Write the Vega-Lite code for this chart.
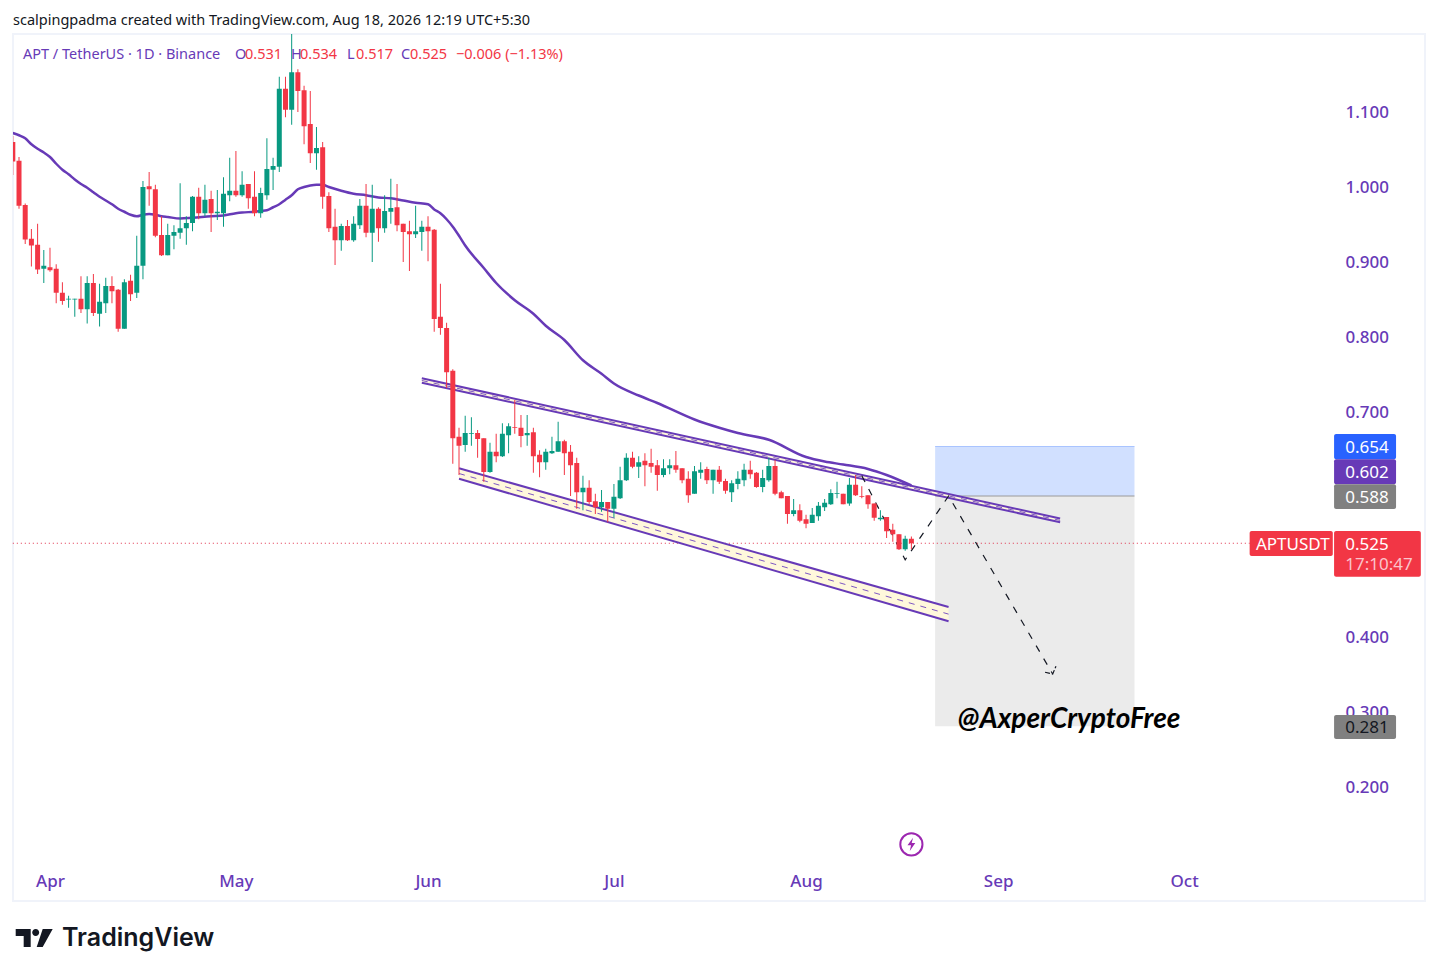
{"$schema":"https://vega.github.io/schema/vega-lite/v6.json","width":1412,"height":867,"autosize":{"type":"none"},"padding":{"left":13,"top":34,"right":13,"bottom":75},"background":"white","config":{"view":{"stroke":"#f0f3fa","strokeWidth":2},"font":"Noto Sans"},"title":{"text":"scalpingpadma created with TradingView.com, Aug 18, 2026 12:19 UTC+5:30","anchor":"start","frame":"group","offset":6,"fontSize":14.5,"fontWeight":"normal","font":"Noto Sans","color":"#131722"},
"datasets":{
"candles":[
{"date":"2026-03-26","o":1.060,"h":1.068,"l":1.016,"c":1.034,"s":"d"},
{"date":"2026-03-27","o":1.035,"h":1.040,"l":0.971,"c":0.975,"s":"d"},
{"date":"2026-03-28","o":0.976,"h":0.978,"l":0.924,"c":0.930,"s":"d"},
{"date":"2026-03-29","o":0.931,"h":0.944,"l":0.894,"c":0.922,"s":"d"},
{"date":"2026-03-30","o":0.923,"h":0.951,"l":0.884,"c":0.890,"s":"d"},
{"date":"2026-03-31","o":0.891,"h":0.916,"l":0.872,"c":0.895,"s":"u"},
{"date":"2026-04-01","o":0.893,"h":0.919,"l":0.887,"c":0.889,"s":"d"},
{"date":"2026-04-02","o":0.891,"h":0.897,"l":0.845,"c":0.859,"s":"d"},
{"date":"2026-04-03","o":0.859,"h":0.873,"l":0.843,"c":0.848,"s":"d"},
{"date":"2026-04-04","o":0.850,"h":0.855,"l":0.839,"c":0.851,"s":"u"},
{"date":"2026-04-05","o":0.850,"h":0.851,"l":0.827,"c":0.851,"s":"u"},
{"date":"2026-04-06","o":0.851,"h":0.881,"l":0.832,"c":0.837,"s":"d"},
{"date":"2026-04-07","o":0.837,"h":0.881,"l":0.818,"c":0.872,"s":"u"},
{"date":"2026-04-08","o":0.872,"h":0.884,"l":0.828,"c":0.832,"s":"d"},
{"date":"2026-04-09","o":0.831,"h":0.871,"l":0.814,"c":0.847,"s":"u"},
{"date":"2026-04-10","o":0.845,"h":0.879,"l":0.832,"c":0.868,"s":"u"},
{"date":"2026-04-11","o":0.868,"h":0.881,"l":0.845,"c":0.861,"s":"d"},
{"date":"2026-04-12","o":0.863,"h":0.864,"l":0.807,"c":0.811,"s":"d"},
{"date":"2026-04-13","o":0.811,"h":0.877,"l":0.811,"c":0.873,"s":"u"},
{"date":"2026-04-14","o":0.875,"h":0.883,"l":0.848,"c":0.857,"s":"d"},
{"date":"2026-04-15","o":0.859,"h":0.935,"l":0.852,"c":0.895,"s":"u"},
{"date":"2026-04-16","o":0.895,"h":1.008,"l":0.877,"c":1.000,"s":"u"},
{"date":"2026-04-17","o":1.001,"h":1.020,"l":0.975,"c":0.997,"s":"d"},
{"date":"2026-04-18","o":0.997,"h":1.003,"l":0.933,"c":0.935,"s":"d"},
{"date":"2026-04-19","o":0.936,"h":0.961,"l":0.908,"c":0.909,"s":"d"},
{"date":"2026-04-20","o":0.909,"h":0.951,"l":0.909,"c":0.936,"s":"u"},
{"date":"2026-04-21","o":0.935,"h":0.949,"l":0.917,"c":0.940,"s":"u"},
{"date":"2026-04-22","o":0.939,"h":1.005,"l":0.931,"c":0.945,"s":"u"},
{"date":"2026-04-23","o":0.945,"h":0.961,"l":0.923,"c":0.952,"s":"u"},
{"date":"2026-04-24","o":0.952,"h":0.988,"l":0.941,"c":0.987,"s":"u"},
{"date":"2026-04-25","o":0.987,"h":0.999,"l":0.957,"c":0.965,"s":"d"},
{"date":"2026-04-26","o":0.965,"h":1.003,"l":0.961,"c":0.983,"s":"u"},
{"date":"2026-04-27","o":0.984,"h":0.995,"l":0.940,"c":0.965,"s":"d"},
{"date":"2026-04-28","o":0.965,"h":0.996,"l":0.956,"c":0.967,"s":"u"},
{"date":"2026-04-29","o":0.965,"h":1.013,"l":0.947,"c":0.991,"s":"u"},
{"date":"2026-04-30","o":0.989,"h":1.039,"l":0.981,"c":0.995,"s":"u"},
{"date":"2026-05-01","o":0.995,"h":1.048,"l":0.987,"c":0.989,"s":"d"},
{"date":"2026-05-02","o":0.989,"h":1.021,"l":0.987,"c":1.003,"s":"u"},
{"date":"2026-05-03","o":1.004,"h":1.004,"l":0.971,"c":0.985,"s":"d"},
{"date":"2026-05-04","o":0.987,"h":1.021,"l":0.961,"c":0.965,"s":"d"},
{"date":"2026-05-05","o":0.965,"h":0.999,"l":0.959,"c":0.992,"s":"u"},
{"date":"2026-05-06","o":0.989,"h":1.065,"l":0.983,"c":1.024,"s":"u"},
{"date":"2026-05-07","o":1.023,"h":1.039,"l":0.996,"c":1.028,"s":"u"},
{"date":"2026-05-08","o":1.027,"h":1.147,"l":1.020,"c":1.131,"s":"u"},
{"date":"2026-05-09","o":1.131,"h":1.147,"l":1.093,"c":1.103,"s":"d"},
{"date":"2026-05-10","o":1.103,"h":1.205,"l":1.083,"c":1.153,"s":"u"},
{"date":"2026-05-11","o":1.153,"h":1.157,"l":1.100,"c":1.128,"s":"d"},
{"date":"2026-05-12","o":1.129,"h":1.135,"l":1.057,"c":1.081,"s":"d"},
{"date":"2026-05-13","o":1.084,"h":1.128,"l":1.032,"c":1.045,"s":"d"},
{"date":"2026-05-14","o":1.045,"h":1.080,"l":1.023,"c":1.052,"s":"u"},
{"date":"2026-05-15","o":1.053,"h":1.060,"l":0.971,"c":0.987,"s":"d"},
{"date":"2026-05-16","o":0.988,"h":0.993,"l":0.940,"c":0.945,"s":"d"},
{"date":"2026-05-17","o":0.947,"h":0.971,"l":0.896,"c":0.929,"s":"d"},
{"date":"2026-05-18","o":0.929,"h":0.951,"l":0.915,"c":0.948,"s":"u"},
{"date":"2026-05-19","o":0.948,"h":0.956,"l":0.928,"c":0.929,"s":"d"},
{"date":"2026-05-20","o":0.929,"h":0.961,"l":0.927,"c":0.951,"s":"u"},
{"date":"2026-05-21","o":0.949,"h":0.984,"l":0.944,"c":0.975,"s":"u"},
{"date":"2026-05-22","o":0.975,"h":1.004,"l":0.933,"c":0.939,"s":"d"},
{"date":"2026-05-23","o":0.939,"h":1.003,"l":0.900,"c":0.971,"s":"u"},
{"date":"2026-05-24","o":0.971,"h":0.973,"l":0.927,"c":0.945,"s":"d"},
{"date":"2026-05-25","o":0.945,"h":0.989,"l":0.939,"c":0.968,"s":"u"},
{"date":"2026-05-26","o":0.967,"h":1.011,"l":0.951,"c":0.972,"s":"u"},
{"date":"2026-05-27","o":0.973,"h":1.004,"l":0.941,"c":0.949,"s":"d"},
{"date":"2026-05-28","o":0.951,"h":0.951,"l":0.900,"c":0.940,"s":"d"},
{"date":"2026-05-29","o":0.941,"h":0.955,"l":0.888,"c":0.937,"s":"d"},
{"date":"2026-05-30","o":0.937,"h":0.975,"l":0.932,"c":0.941,"s":"u"},
{"date":"2026-05-31","o":0.940,"h":0.955,"l":0.915,"c":0.947,"s":"u"},
{"date":"2026-06-01","o":0.947,"h":0.961,"l":0.901,"c":0.941,"s":"d"},
{"date":"2026-06-02","o":0.943,"h":0.944,"l":0.807,"c":0.824,"s":"d"},
{"date":"2026-06-03","o":0.827,"h":0.871,"l":0.803,"c":0.812,"s":"d"},
{"date":"2026-06-04","o":0.812,"h":0.819,"l":0.732,"c":0.753,"s":"d"},
{"date":"2026-06-05","o":0.755,"h":0.757,"l":0.631,"c":0.665,"s":"d"},
{"date":"2026-06-06","o":0.667,"h":0.679,"l":0.616,"c":0.655,"s":"d"},
{"date":"2026-06-07","o":0.656,"h":0.695,"l":0.647,"c":0.672,"s":"u"},
{"date":"2026-06-08","o":0.671,"h":0.693,"l":0.655,"c":0.672,"s":"u"},
{"date":"2026-06-09","o":0.672,"h":0.676,"l":0.639,"c":0.664,"s":"d"},
{"date":"2026-06-10","o":0.665,"h":0.665,"l":0.607,"c":0.620,"s":"d"},
{"date":"2026-06-11","o":0.620,"h":0.659,"l":0.619,"c":0.647,"s":"u"},
{"date":"2026-06-12","o":0.647,"h":0.671,"l":0.633,"c":0.641,"s":"d"},
{"date":"2026-06-13","o":0.641,"h":0.685,"l":0.640,"c":0.671,"s":"u"},
{"date":"2026-06-14","o":0.669,"h":0.685,"l":0.645,"c":0.681,"s":"u"},
{"date":"2026-06-15","o":0.680,"h":0.716,"l":0.671,"c":0.679,"s":"d"},
{"date":"2026-06-16","o":0.679,"h":0.696,"l":0.653,"c":0.668,"s":"d"},
{"date":"2026-06-17","o":0.669,"h":0.696,"l":0.655,"c":0.672,"s":"u"},
{"date":"2026-06-18","o":0.673,"h":0.679,"l":0.619,"c":0.641,"s":"d"},
{"date":"2026-06-19","o":0.643,"h":0.649,"l":0.613,"c":0.633,"s":"d"},
{"date":"2026-06-20","o":0.633,"h":0.651,"l":0.623,"c":0.647,"s":"u"},
{"date":"2026-06-21","o":0.645,"h":0.667,"l":0.644,"c":0.648,"s":"u"},
{"date":"2026-06-22","o":0.647,"h":0.687,"l":0.647,"c":0.661,"s":"u"},
{"date":"2026-06-23","o":0.661,"h":0.663,"l":0.616,"c":0.645,"s":"d"},
{"date":"2026-06-24","o":0.647,"h":0.656,"l":0.588,"c":0.629,"s":"d"},
{"date":"2026-06-25","o":0.632,"h":0.639,"l":0.571,"c":0.593,"s":"d"},
{"date":"2026-06-26","o":0.593,"h":0.615,"l":0.569,"c":0.599,"s":"u"},
{"date":"2026-06-27","o":0.599,"h":0.609,"l":0.577,"c":0.580,"s":"d"},
{"date":"2026-06-28","o":0.581,"h":0.591,"l":0.564,"c":0.573,"s":"d"},
{"date":"2026-06-29","o":0.573,"h":0.596,"l":0.567,"c":0.580,"s":"u"},
{"date":"2026-06-30","o":0.580,"h":0.580,"l":0.553,"c":0.571,"s":"d"},
{"date":"2026-07-01","o":0.571,"h":0.604,"l":0.559,"c":0.587,"s":"u"},
{"date":"2026-07-02","o":0.585,"h":0.627,"l":0.584,"c":0.609,"s":"u"},
{"date":"2026-07-03","o":0.609,"h":0.645,"l":0.608,"c":0.639,"s":"u"},
{"date":"2026-07-04","o":0.639,"h":0.647,"l":0.625,"c":0.627,"s":"d"},
{"date":"2026-07-05","o":0.627,"h":0.641,"l":0.612,"c":0.633,"s":"u"},
{"date":"2026-07-06","o":0.635,"h":0.645,"l":0.601,"c":0.629,"s":"d"},
{"date":"2026-07-07","o":0.632,"h":0.651,"l":0.619,"c":0.627,"s":"d"},
{"date":"2026-07-08","o":0.629,"h":0.636,"l":0.595,"c":0.616,"s":"d"},
{"date":"2026-07-09","o":0.616,"h":0.637,"l":0.613,"c":0.625,"s":"u"},
{"date":"2026-07-10","o":0.625,"h":0.637,"l":0.617,"c":0.629,"s":"u"},
{"date":"2026-07-11","o":0.629,"h":0.648,"l":0.619,"c":0.623,"s":"d"},
{"date":"2026-07-12","o":0.625,"h":0.625,"l":0.605,"c":0.609,"s":"d"},
{"date":"2026-07-13","o":0.611,"h":0.621,"l":0.579,"c":0.589,"s":"d"},
{"date":"2026-07-14","o":0.591,"h":0.628,"l":0.591,"c":0.621,"s":"u"},
{"date":"2026-07-15","o":0.619,"h":0.633,"l":0.611,"c":0.623,"s":"u"},
{"date":"2026-07-16","o":0.624,"h":0.627,"l":0.604,"c":0.609,"s":"d"},
{"date":"2026-07-17","o":0.609,"h":0.623,"l":0.591,"c":0.623,"s":"u"},
{"date":"2026-07-18","o":0.623,"h":0.628,"l":0.604,"c":0.607,"s":"d"},
{"date":"2026-07-19","o":0.608,"h":0.611,"l":0.591,"c":0.595,"s":"d"},
{"date":"2026-07-20","o":0.593,"h":0.609,"l":0.580,"c":0.605,"s":"u"},
{"date":"2026-07-21","o":0.604,"h":0.621,"l":0.597,"c":0.611,"s":"u"},
{"date":"2026-07-22","o":0.609,"h":0.631,"l":0.601,"c":0.623,"s":"u"},
{"date":"2026-07-23","o":0.623,"h":0.635,"l":0.611,"c":0.617,"s":"d"},
{"date":"2026-07-24","o":0.619,"h":0.620,"l":0.599,"c":0.600,"s":"d"},
{"date":"2026-07-25","o":0.600,"h":0.623,"l":0.593,"c":0.612,"s":"u"},
{"date":"2026-07-26","o":0.609,"h":0.639,"l":0.607,"c":0.628,"s":"u"},
{"date":"2026-07-27","o":0.628,"h":0.636,"l":0.589,"c":0.591,"s":"d"},
{"date":"2026-07-28","o":0.593,"h":0.595,"l":0.585,"c":0.585,"s":"d"},
{"date":"2026-07-29","o":0.588,"h":0.588,"l":0.551,"c":0.564,"s":"d"},
{"date":"2026-07-30","o":0.564,"h":0.584,"l":0.561,"c":0.569,"s":"u"},
{"date":"2026-07-31","o":0.569,"h":0.577,"l":0.553,"c":0.555,"s":"d"},
{"date":"2026-08-01","o":0.557,"h":0.563,"l":0.545,"c":0.551,"s":"d"},
{"date":"2026-08-02","o":0.552,"h":0.572,"l":0.552,"c":0.563,"s":"u"},
{"date":"2026-08-03","o":0.561,"h":0.580,"l":0.555,"c":0.575,"s":"u"},
{"date":"2026-08-04","o":0.573,"h":0.584,"l":0.568,"c":0.579,"s":"u"},
{"date":"2026-08-05","o":0.577,"h":0.597,"l":0.576,"c":0.592,"s":"u"},
{"date":"2026-08-06","o":0.591,"h":0.607,"l":0.585,"c":0.592,"s":"u"},
{"date":"2026-08-07","o":0.591,"h":0.591,"l":0.577,"c":0.577,"s":"d"},
{"date":"2026-08-08","o":0.578,"h":0.612,"l":0.575,"c":0.603,"s":"u"},
{"date":"2026-08-09","o":0.603,"h":0.616,"l":0.588,"c":0.589,"s":"d"},
{"date":"2026-08-10","o":0.588,"h":0.601,"l":0.585,"c":0.587,"s":"d"},
{"date":"2026-08-11","o":0.589,"h":0.589,"l":0.571,"c":0.577,"s":"d"},
{"date":"2026-08-12","o":0.578,"h":0.578,"l":0.555,"c":0.559,"s":"d"},
{"date":"2026-08-13","o":0.557,"h":0.569,"l":0.555,"c":0.559,"s":"u"},
{"date":"2026-08-14","o":0.560,"h":0.560,"l":0.532,"c":0.541,"s":"d"},
{"date":"2026-08-15","o":0.543,"h":0.551,"l":0.527,"c":0.537,"s":"d"},
{"date":"2026-08-16","o":0.537,"h":0.537,"l":0.516,"c":0.517,"s":"d"},
{"date":"2026-08-17","o":0.517,"h":0.535,"l":0.515,"c":0.531,"s":"u"},
{"date":"2026-08-18","o":0.531,"h":0.534,"l":0.517,"c":0.525,"s":"d"}
],
"ma":[
{"date":"2026-03-26","v":1.072},{"date":"2026-03-27","v":1.069},{"date":"2026-03-28","v":1.065},{"date":"2026-03-29","v":1.057},{"date":"2026-03-30","v":1.051},{"date":"2026-03-31","v":1.046},{"date":"2026-04-01","v":1.040},{"date":"2026-04-02","v":1.031},{"date":"2026-04-03","v":1.023},{"date":"2026-04-04","v":1.017},{"date":"2026-04-05","v":1.010},{"date":"2026-04-06","v":1.004},{"date":"2026-04-07","v":0.999},{"date":"2026-04-08","v":0.993},{"date":"2026-04-09","v":0.987},{"date":"2026-04-10","v":0.982},{"date":"2026-04-11","v":0.977},{"date":"2026-04-12","v":0.971},{"date":"2026-04-13","v":0.967},{"date":"2026-04-14","v":0.963},{"date":"2026-04-15","v":0.961},{"date":"2026-04-16","v":0.963},{"date":"2026-04-17","v":0.964},{"date":"2026-04-18","v":0.963},{"date":"2026-04-19","v":0.961},{"date":"2026-04-20","v":0.960},{"date":"2026-04-22","v":0.958},{"date":"2026-04-24","v":0.959},{"date":"2026-04-27","v":0.961},{"date":"2026-04-29","v":0.962},{"date":"2026-05-01","v":0.965},{"date":"2026-05-02","v":0.966},{"date":"2026-05-04","v":0.967},{"date":"2026-05-05","v":0.968},{"date":"2026-05-06","v":0.969},{"date":"2026-05-07","v":0.973},{"date":"2026-05-08","v":0.977},{"date":"2026-05-09","v":0.983},{"date":"2026-05-10","v":0.989},{"date":"2026-05-11","v":0.997},{"date":"2026-05-12","v":1.000},{"date":"2026-05-13","v":1.002},{"date":"2026-05-14","v":1.003},{"date":"2026-05-15","v":1.003},{"date":"2026-05-16","v":1.000},{"date":"2026-05-18","v":0.995},{"date":"2026-05-20","v":0.991},{"date":"2026-05-22","v":0.989},{"date":"2026-05-24","v":0.986},{"date":"2026-05-26","v":0.985},{"date":"2026-05-28","v":0.982},{"date":"2026-05-30","v":0.979},{"date":"2026-06-01","v":0.977},{"date":"2026-06-02","v":0.970},{"date":"2026-06-03","v":0.965},{"date":"2026-06-04","v":0.957},{"date":"2026-06-05","v":0.947},{"date":"2026-06-06","v":0.935},{"date":"2026-06-07","v":0.922},{"date":"2026-06-10","v":0.892},{"date":"2026-06-12","v":0.872},{"date":"2026-06-15","v":0.849},{"date":"2026-06-18","v":0.831},{"date":"2026-06-20","v":0.815},{"date":"2026-06-23","v":0.796},{"date":"2026-06-26","v":0.769},{"date":"2026-06-29","v":0.751},{"date":"2026-07-01","v":0.738},{"date":"2026-07-05","v":0.722},{"date":"2026-07-08","v":0.712},{"date":"2026-07-14","v":0.690},{"date":"2026-07-18","v":0.679},{"date":"2026-07-21","v":0.672},{"date":"2026-07-26","v":0.663},{"date":"2026-08-01","v":0.640},{"date":"2026-08-04","v":0.634},{"date":"2026-08-07","v":0.630},{"date":"2026-08-11","v":0.624},{"date":"2026-08-14","v":0.616},{"date":"2026-08-18","v":0.602}
],
"channels":[
{"date":"2026-05-31","top":0.745,"mid":0.742,"bot":0.739,"ch":"upper"},
{"date":"2026-09-11","top":0.558,"mid":0.5555,"bot":0.553,"ch":"upper"},
{"date":"2026-06-06","top":0.625,"mid":0.618,"bot":0.611,"ch":"lower"},
{"date":"2026-08-24","top":0.440,"mid":0.4305,"bot":0.421,"ch":"lower"}
],
"zones":[
{"date":"2026-08-21T20:00:00Z","date2":"2026-09-23","p":0.654,"p2":0.588,"k":"target"},
{"date":"2026-08-21T20:00:00Z","date2":"2026-09-23","p":0.588,"p2":0.281,"k":"stop"}
],
"edges":[
{"date":"2026-08-21T20:00:00Z","date2":"2026-09-23","p":0.654,"k":"target"},
{"date":"2026-08-21T20:00:00Z","date2":"2026-09-23","p":0.588,"k":"entry"}
],
"path":[
{"date":"2026-08-10","p":0.615},{"date":"2026-08-17","p":0.503},{"date":"2026-08-24","p":0.588},{"date":"2026-09-09T19:12:00Z","p":0.3507}
],
"head":[
{"date":"2026-09-08T13:41:00Z","p":0.353},{"date":"2026-09-09T19:12:00Z","p":0.3507},{"date":"2026-09-10T08:00:00Z","p":0.361}
],
"last":[{"date":"2026-03-26","date2":"2026-10-11T14:00:00Z","p":0.525}],
"tags":[
{"date":"2026-10-25T05:00:00Z","date2":"2026-11-04T05:00:00Z","p":0.6707,"p2":0.6369,"k":"target"},
{"date":"2026-10-25T05:00:00Z","date2":"2026-11-04T05:00:00Z","p":0.6369,"p2":0.6036,"k":"ma"},
{"date":"2026-10-25T05:00:00Z","date2":"2026-11-04T05:00:00Z","p":0.6036,"p2":0.5707,"k":"stop"},
{"date":"2026-10-25T05:00:00Z","date2":"2026-11-08T05:00:00Z","p":0.5413,"p2":0.4804,"k":"last"},
{"date":"2026-10-11T14:00:00Z","date2":"2026-10-25T00:00:00Z","p":0.5413,"p2":0.508,"k":"last"},
{"date":"2026-10-25T05:00:00Z","date2":"2026-11-04T05:00:00Z","p":0.296,"p2":0.264,"k":"stop"}
],
"tagText":[
{"date":"2026-10-27","p":0.652,"t":"0.654","k":"w"},
{"date":"2026-10-27","p":0.619,"t":"0.602","k":"w"},
{"date":"2026-10-27","p":0.586,"t":"0.588","k":"w"},
{"date":"2026-10-27","p":0.523,"t":"0.525","k":"w"},
{"date":"2026-10-27","p":0.496,"t":"17:10:47","k":"p"},
{"date":"2026-10-27","p":0.279,"t":"0.281","k":"b"},
{"date":"2026-10-12T14:24:00Z","p":0.523,"t":"APTUSDT","k":"w"}
],
"header":[
{"date":"2026-03-27T15:26:00Z","p":1.176,"t":"APT / TetherUS · 1D · Binance","k":"a"},
{"date":"2026-04-30T20:24:00Z","p":1.176,"t":"O","k":"a"},
{"date":"2026-05-02T11:17:00Z","p":1.176,"t":"0.531","k":"r"},
{"date":"2026-05-09T21:21:00Z","p":1.176,"t":"H","k":"a"},
{"date":"2026-05-11T08:10:00Z","p":1.176,"t":"0.534","k":"r"},
{"date":"2026-05-18T22:19:00Z","p":1.176,"t":"L","k":"a"},
{"date":"2026-05-20T09:07:00Z","p":1.176,"t":"0.517","k":"r"},
{"date":"2026-05-27T15:22:00Z","p":1.176,"t":"C","k":"a"},
{"date":"2026-05-29T02:10:00Z","p":1.176,"t":"0.525","k":"r"},
{"date":"2026-06-05T12:29:00Z","p":1.176,"t":"−0.006 (−1.13%)","k":"r"}
],
"mark":[{"date":"2026-08-18","p":0.1235}],
"logo":[{"date":"2026-03-29T10:48:00Z","p":-0.0013}],
"brand":[{"date":"2026-04-02T22:34:00Z","p":-0.0013,"t":"TradingView"}],
"credit":[{"date":"2026-08-25T12:00:00Z","p":0.290,"t":"@AxperCryptoFree"}]
},
"encoding":{
"x":{"field":"date","type":"temporal","title":null,"scale":{"type":"utc","padding":0,"domain":[{"year":2026,"month":3,"date":26,"hours":0,"minutes":43,"utc":true},{"year":2026,"month":11,"date":8,"hours":21,"minutes":7,"utc":true}]},"axis":{"orient":"bottom","grid":false,"domain":false,"ticks":false,"labelPadding":-28,"labelFontSize":17,"labelFont":"Noto Sans","labelFontWeight":500,"labelColor":"#673ab7","format":"%b","labelOverlap":false,"labelFlush":false,"labelBound":false,"values":[{"year":2026,"month":4,"date":1,"utc":true},{"year":2026,"month":5,"date":1,"utc":true},{"year":2026,"month":6,"date":1,"utc":true},{"year":2026,"month":7,"date":1,"utc":true},{"year":2026,"month":8,"date":1,"utc":true},{"year":2026,"month":9,"date":1,"utc":true},{"year":2026,"month":10,"date":1,"utc":true}]}}
},
"resolve":{"scale":{"color":"independent"}},
"layer":[
{"data":{"name":"zones"},"mark":{"type":"rect"},"encoding":{"x2":{"field":"date2"},"y":{"field":"p","type":"quantitative","title":null,"scale":{"domain":[0.048,1.204],"nice":false,"zero":false},"axis":{"orient":"right","grid":false,"domain":false,"ticks":false,"labelPadding":-80,"labelFontSize":17,"labelFont":"Noto Sans","labelFontWeight":500,"labelColor":"#673ab7","format":".3f","labelAlign":"left","labelOverlap":false,"labelBound":false,"labelFlush":false,"values":[0.2,0.3,0.4,0.7,0.8,0.9,1.0,1.1]}},"y2":{"field":"p2"},"color":{"field":"k","type":"nominal","legend":null,"scale":{"domain":["target","stop"],"range":["#d1e0ff","#ebebeb"]}}}},
{"data":{"name":"edges"},"mark":{"type":"rule","strokeWidth":1},"encoding":{"x2":{"field":"date2"},"y":{"field":"p","type":"quantitative"},"color":{"field":"k","type":"nominal","legend":null,"scale":{"domain":["target","entry"],"range":["#a9c4ff","#9a9a9a"]}}}},
{"data":{"name":"last"},"mark":{"type":"rule","strokeWidth":1,"strokeDash":[1,3],"color":"#e0304a"},"encoding":{"x2":{"field":"date2"},"y":{"field":"p","type":"quantitative"}}},
{"data":{"name":"channels"},"mark":{"type":"area","color":"#fff8dc"},"encoding":{"y":{"field":"top","type":"quantitative"},"y2":{"field":"bot"},"detail":{"field":"ch"}}},
{"data":{"name":"channels"},"mark":{"type":"line","color":"#673ab7","strokeWidth":2},"encoding":{"y":{"field":"top","type":"quantitative"},"detail":{"field":"ch"}}},
{"data":{"name":"channels"},"mark":{"type":"line","color":"#673ab7","strokeWidth":2},"encoding":{"y":{"field":"bot","type":"quantitative"},"detail":{"field":"ch"}}},
{"data":{"name":"channels"},"mark":{"type":"line","color":"#7e57c2","strokeWidth":1,"strokeDash":[6,6]},"encoding":{"y":{"field":"mid","type":"quantitative"},"detail":{"field":"ch"}}},
{"data":{"name":"path"},"mark":{"type":"line","color":"#131722","strokeWidth":1.2,"strokeDash":[7,8]},"encoding":{"y":{"field":"p","type":"quantitative"}}},
{"data":{"name":"head"},"mark":{"type":"line","color":"#131722","strokeWidth":1.2,"strokeDash":[5,2]},"encoding":{"y":{"field":"p","type":"quantitative"}}},
{"data":{"name":"ma"},"mark":{"type":"line","color":"#673ab7","strokeWidth":2.5,"interpolate":"monotone","clip":true},"encoding":{"y":{"field":"v","type":"quantitative"}}},
{"data":{"name":"candles"},"mark":{"type":"rule","strokeWidth":1,"clip":true},"encoding":{"y":{"field":"l","type":"quantitative"},"y2":{"field":"h"},"color":{"field":"s","type":"nominal","legend":null,"scale":{"domain":["u","d"],"range":["#089981","#f23645"]}}}},
{"data":{"name":"candles"},"mark":{"type":"bar","size":5,"clip":true},"encoding":{"y":{"field":"o","type":"quantitative"},"y2":{"field":"c"},"color":{"field":"s","type":"nominal","legend":null,"scale":{"domain":["u","d"],"range":["#089981","#f23645"]}}}},
{"data":{"name":"tags"},"mark":{"type":"rect","cornerRadius":2},"encoding":{"x2":{"field":"date2"},"y":{"field":"p","type":"quantitative"},"y2":{"field":"p2"},"color":{"field":"k","type":"nominal","legend":null,"scale":{"domain":["target","ma","stop","last"],"range":["#2962ff","#673ab7","#808080","#f23645"]}}}},
{"data":{"name":"tagText"},"mark":{"type":"text","align":"left","baseline":"middle","font":"Noto Sans","fontSize":17},"encoding":{"y":{"field":"p","type":"quantitative"},"text":{"field":"t"},"color":{"field":"k","type":"nominal","legend":null,"scale":{"domain":["w","p","b"],"range":["#ffffff","#fbc4cb","#131722"]}}}},
{"data":{"name":"header"},"mark":{"type":"text","align":"left","baseline":"middle","font":"Noto Sans","fontSize":14.5},"encoding":{"y":{"field":"p","type":"quantitative"},"text":{"field":"t"},"color":{"field":"k","type":"nominal","legend":null,"scale":{"domain":["a","r"],"range":["#673ab7","#f23645"]}}}},
{"data":{"name":"credit"},"mark":{"type":"text","align":"left","baseline":"middle","font":"Lato","fontSize":28,"fontStyle":"italic","fontWeight":"bold","color":"#000000"},"encoding":{"y":{"field":"p","type":"quantitative"},"text":{"field":"t"}}},
{"data":{"name":"mark"},"mark":{"type":"point","shape":"circle","filled":false,"size":491,"strokeWidth":2,"opacity":1,"color":"#9c27b0"},"encoding":{"y":{"field":"p","type":"quantitative"}}},
{"data":{"name":"mark"},"mark":{"type":"point","filled":true,"size":170,"opacity":1,"color":"#9c27b0","shape":"M.25 -1 L-.6 .15 L-.05 .15 L-.25 1 L.6 -.2 L.05 -.2 Z"},"encoding":{"y":{"field":"p","type":"quantitative"}}},
{"data":{"name":"logo"},"mark":{"type":"point","filled":true,"size":1369,"opacity":1,"color":"#131722","clip":false,"shape":"M-1 -.486 L-.189 -.486 L-.189 .486 L-.568 .486 L-.568 -.108 L-1 -.108 Z M-.108 -.297 A.189 .189 0 1 0 .27 -.297 A.189 .189 0 1 0 -.108 -.297 Z M.46 -.486 L1 -.486 L.46 .486 L.135 .486 Z"},"encoding":{"y":{"field":"p","type":"quantitative"}}},
{"data":{"name":"brand"},"mark":{"type":"text","align":"left","baseline":"middle","font":"Inter","fontSize":25,"fontWeight":600,"color":"#131722"},"encoding":{"y":{"field":"p","type":"quantitative"},"text":{"field":"t"}}}
]}
